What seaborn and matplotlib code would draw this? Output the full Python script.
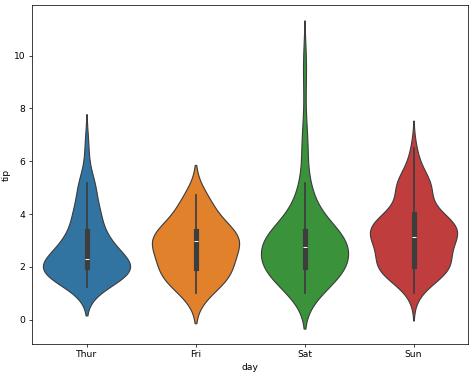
import matplotlib
matplotlib.use("Agg")
import matplotlib.pyplot as plt
import seaborn as sns
import pandas as pd

days = ["Thur", "Fri", "Sat", "Sun"]

tips_thur = [4.00, 3.00, 2.71, 3.00, 3.40, 1.83, 5.00, 2.03, 5.17, 2.00, 4.00, 5.85, 3.00,
             1.50, 1.80, 2.92, 2.31, 1.68, 2.50, 2.00, 2.52, 4.20, 1.48, 2.00, 2.00, 2.18,
             1.50, 2.83, 1.50, 2.00, 3.25, 1.25, 2.00, 2.00, 2.00, 2.75, 3.50, 6.70, 5.00,
             5.00, 2.30, 1.50, 1.36, 1.63, 1.73, 2.00,
             4.19, 2.56, 2.02, 4.00, 1.44, 2.00, 5.00, 2.00, 2.00, 4.00, 2.01, 2.00, 2.50,
             4.00, 3.23, 3.00]
tips_fri = [3.00, 3.50, 1.00, 4.30, 3.25, 4.73, 4.00, 1.50, 3.00, 1.50, 2.50, 3.00,
            2.20, 3.48, 1.92, 3.00, 1.58, 2.50, 2.00]
tips_sat = [3.35, 4.08, 2.75, 2.23, 7.58, 3.18, 2.34, 2.00, 2.00, 4.30, 3.00, 1.45, 2.50,
            3.00, 2.45, 3.27, 3.60, 2.00, 3.07, 2.31, 5.00, 2.24,
            3.00, 1.50, 1.76, 6.73, 3.21, 2.00, 1.98, 3.76, 2.64, 3.15, 2.47, 1.00, 2.01,
            2.09, 1.97, 3.00, 3.14, 5.00, 2.20, 1.25, 3.08,
            2.50, 3.48, 4.08, 1.64, 4.06, 4.29, 3.76, 4.00, 3.00, 1.00,
            1.61, 2.00, 10.00, 3.16,
            3.41, 3.00, 2.03, 2.23, 2.00, 5.16, 9.00, 2.50, 6.50, 1.10, 3.00, 1.50, 1.44, 3.09,
            3.00, 2.72, 2.88, 2.00, 3.00, 3.39, 1.47, 3.00, 1.25, 1.00, 1.17, 4.67, 5.92,
            2.00, 2.00, 1.75]
tips_sun = [1.01, 1.66, 3.50, 3.31, 3.61, 4.71, 2.00, 3.12, 1.96, 3.23, 1.71, 5.00, 1.57,
            3.00, 3.02, 3.92, 1.67, 3.71, 3.50,
            2.54, 3.06, 1.32, 5.60, 3.00, 5.00, 6.00, 2.05, 3.00, 2.50, 2.60, 5.20, 1.56,
            4.34, 3.51,
            4.00, 2.55, 4.00, 3.50, 5.07,
            2.50, 2.00, 2.74, 2.00, 2.00, 5.14, 5.00, 3.75, 2.61, 2.00, 3.50, 2.50, 2.00,
            2.00, 3.00, 3.48, 2.24, 4.50,
            5.15, 3.18, 4.00, 3.11, 2.00, 2.00, 4.00, 3.55, 3.68, 5.65, 3.50, 6.50, 3.00,
            5.00, 3.50, 2.00, 3.50, 4.00, 1.50]

df = pd.DataFrame({
    "day": (["Thur"] * len(tips_thur) + ["Fri"] * len(tips_fri)
            + ["Sat"] * len(tips_sat) + ["Sun"] * len(tips_sun)),
    "tip": tips_thur + tips_fri + tips_sat + tips_sun,
})

DPI = 66
fig, ax = plt.subplots(figsize=(474 / DPI, 374 / DPI), dpi=DPI)
sns.violinplot(data=df, x="day", y="tip", hue="day", order=days, hue_order=days,
               palette="tab10", legend=False, ax=ax)
fig.subplots_adjust(left=32 / 474, right=468 / 474, top=1 - 5 / 374, bottom=1 - 344 / 374)
fig.savefig("out.png", dpi=DPI)
